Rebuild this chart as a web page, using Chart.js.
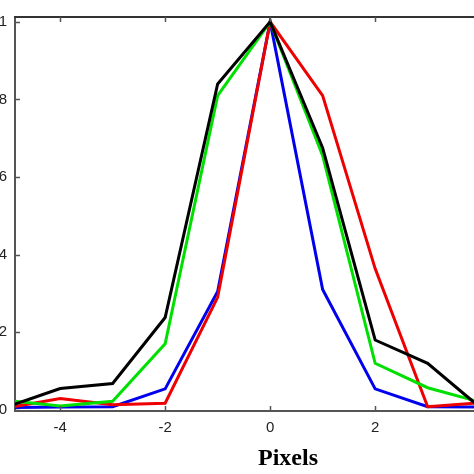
<!DOCTYPE html>
<html>
<head>
<meta charset="utf-8">
<script src="https://cdn.jsdelivr.net/npm/chart.js@4.4.1/dist/chart.umd.min.js"></script>
<style>
    html, body { margin: 0; padding: 0; background: #fff; overflow: hidden; width: 474px; height: 474px; }
    #wrap { position: absolute; left: -40px; top: 0; width: 610px; height: 474px; }
</style>
</head>
<body>
<div id="wrap"><canvas id="psfChart" width="610" height="474"></canvas></div>
<script>
// pixel offsets along the profile
const pixelOffsets = [-5, -4, -3, -2, -1, 0, 1, 2, 3, 4];

// normalised profiles
const blackSeries = [0.008, 0.055, 0.068, 0.238, 0.840, 1.0, 0.675, 0.180, 0.120, 0.006];
const greenSeries = [0.024, 0.010, 0.022, 0.170, 0.810, 1.0, 0.655, 0.120, 0.057, 0.020];
const blueSeries  = [0.006, 0.007, 0.008, 0.054, 0.305, 1.0, 0.310, 0.054, 0.008, 0.007];
const redSeries   = [0.005, 0.029, 0.013, 0.017, 0.290, 1.0, 0.810, 0.364, 0.008, 0.018];

const xTickStep = 2;
const yTickStep = 0.2;

const toPoints = (vals) => vals.map((v, i) => ({ x: pixelOffsets[i], y: v }));

const axisColor = '#555';

// MATLAB-style inward ticks plus the top box edge
const boxTicks = {
    id: 'boxTicks',
    afterDraw(chart) {
        const { ctx, chartArea: a, scales } = chart;
        const len = 5;
        ctx.save();
        ctx.strokeStyle = '#333';
        ctx.lineWidth = 2;
        ctx.beginPath();
        ctx.moveTo(a.left - 1, a.top);
        ctx.lineTo(a.right, a.top);
        ctx.stroke();
        ctx.strokeStyle = axisColor;
        ctx.lineWidth = 1.5;
        ctx.beginPath();
        scales.x.ticks.forEach(t => {
            const px = Math.round(scales.x.getPixelForValue(t.value)) + 0.5;
            ctx.moveTo(px, a.bottom); ctx.lineTo(px, a.bottom - len);
            ctx.moveTo(px, a.top); ctx.lineTo(px, a.top + len);
        });
        scales.y.ticks.forEach(t => {
            const py = Math.round(scales.y.getPixelForValue(t.value)) + 0.5;
            ctx.moveTo(a.left, py); ctx.lineTo(a.left + len, py);
        });
        ctx.stroke();
        ctx.restore();
    }
};

const lineSet = (data, color) => ({
    data: toPoints(data),
    borderColor: color,
    backgroundColor: color,
    borderWidth: 3,
    pointRadius: 0,
    tension: 0,
    fill: false,
    clip: 0
});

const tickFont = { family: 'Liberation Sans, Arial, sans-serif', size: 15 };

new Chart(document.getElementById('psfChart'), {
    type: 'line',
    data: {
        datasets: [
            lineSet(blackSeries, '#000000'),
            lineSet(greenSeries, '#00e000'),
            lineSet(redSeries, '#ee0000'),
            lineSet(blueSeries, '#0000ee')
        ]
    },
    options: {
        responsive: false,
        devicePixelRatio: 1,
        animation: false,
        layout: { padding: { left: 0, right: 9, top: 4, bottom: 0 } },
        plugins: { legend: { display: false }, tooltip: { enabled: false } },
        scales: {
            x: {
                type: 'linear',
                min: -4.86,
                max: 5.54,
                afterFit: (s) => { s.height = 63; },
                grid: { display: false, drawTicks: false },
                border: { display: true, color: axisColor, width: 2 },
                ticks: {
                    stepSize: xTickStep,
                    includeBounds: false,
                    padding: 8,
                    color: '#222',
                    font: tickFont,
                    callback: (v) => String(v)
                },
                title: {
                    display: true,
                    text: 'Pixels',
                    color: '#000',
                    padding: { top: 0, bottom: 1 },
                    font: { family: 'Liberation Serif, Times New Roman, serif', size: 24, weight: 'bold' }
                }
            },
            y: {
                min: -0.003,
                max: 1.0125,
                afterFit: (s) => { s.width = 55; },
                grid: { display: false, drawTicks: false },
                border: { display: true, color: axisColor, width: 2 },
                ticks: {
                    stepSize: yTickStep,
                    includeBounds: false,
                    padding: 8,
                    color: '#222',
                    font: tickFont,
                    callback: (v) => String(+v.toFixed(1))
                }
            }
        }
    },
    plugins: [boxTicks]
});
</script>
</body>
</html>
